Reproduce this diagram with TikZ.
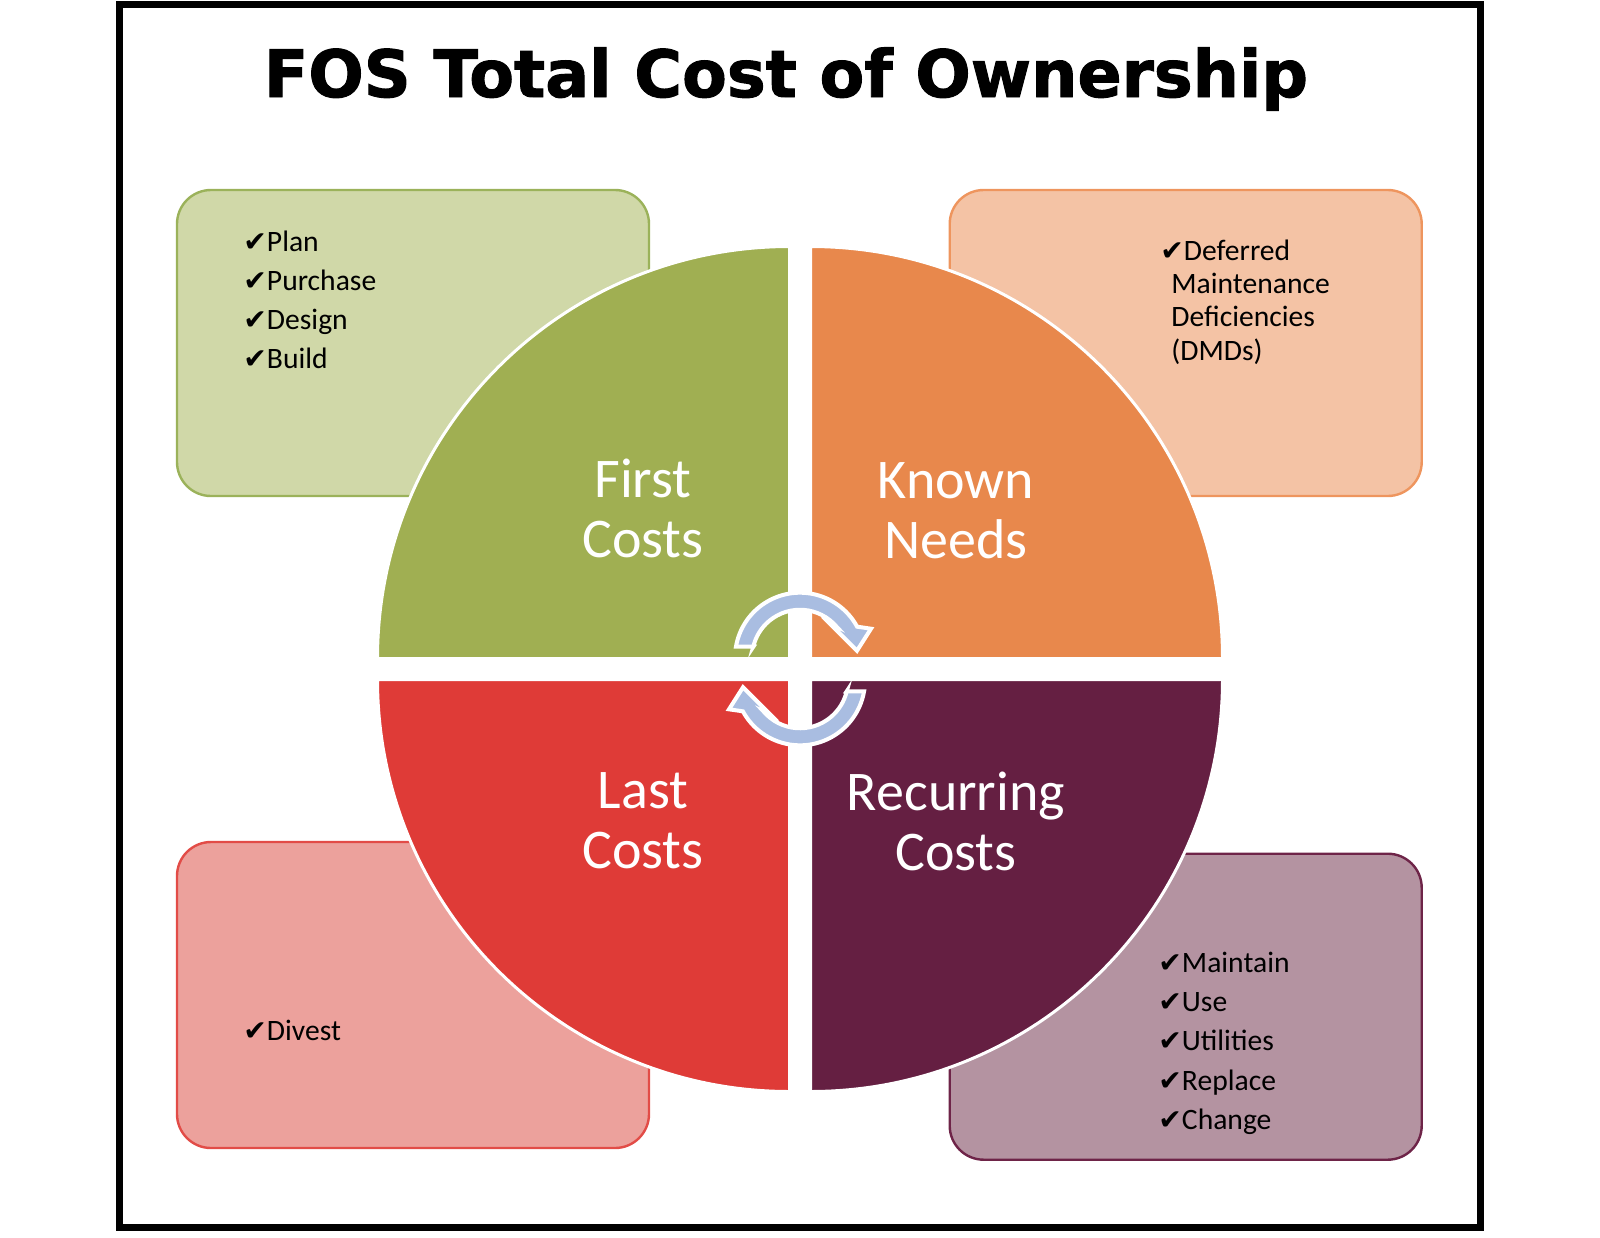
\documentclass[tikz,border=0pt]{standalone}
\usepackage{fontspec}
\setmainfont{Carlito}
\newfontfamily\titlefont[BoldFeatures={FakeBold=1.5}]{DejaVu Sans}
\newfontfamily\tickfont[Scale=0.95]{DejaVu Sans}
\newcommand{\tick}{{\tickfont ✔}}
\usetikzlibrary{positioning}

\definecolor{quadgreen}{HTML}{A0AF52}
\definecolor{quadorange}{HTML}{E8884C}
\definecolor{quadred}{HTML}{DF3B37}
\definecolor{quadpurple}{HTML}{651F42}
\definecolor{boxgreen}{HTML}{D0D8A8}
\definecolor{boxorange}{HTML}{F4C3A5}
\definecolor{boxred}{HTML}{ECA19C}
\definecolor{boxpurple}{HTML}{B493A1}
\definecolor{edgegreen}{HTML}{9BB25A}
\definecolor{edgeorange}{HTML}{EE955E}
\definecolor{edgered}{HTML}{E24C47}
\definecolor{edgepurple}{HTML}{6E2448}
\definecolor{arrowblue}{HTML}{A9BDE1}

\begin{document}
\begin{tikzpicture}[x=0.5pt, y=-0.5pt,
		infobox/.style 2 args={rectangle, draw=#2, fill=#1, line width=1.2pt, rounded corners=17pt, minimum width=236pt, minimum height=153pt},
		listtext/.style={inner sep=0pt, align=left, text=black, font=\fontsize{14.8}{#1}\selectfont},
		quadrant/.style={fill=#1, draw=white, line width=1.5pt},
		quadtext/.style={anchor=north, inner sep=0pt, align=center, text=white, font=\fontsize{28}{30}\selectfont},
		turn arrow/.style={fill=arrowblue, draw=white, line width=2pt, line join=miter}]

	\useasboundingbox (0,0) rectangle (1600,1237);
	\draw [line width=3.5pt] (119,4) rectangle (1480,1227);

	\node (title) [anchor=base] at (786,97) {\fontsize{32.6}{36}\selectfont\titlefont\bfseries FOS Total Cost of Ownership};

	%Detail boxes behind the circle.
	\node [infobox={boxgreen}{edgegreen}]   (first-box)     at (413,343)    {};
	\node [infobox={boxorange}{edgeorange}] (known-box)     at (1185.7,343) {};
	\node [infobox={boxred}{edgered}]       (last-box)      at (413,995)    {};
	\node [infobox={boxpurple}{edgepurple}] (recurring-box) at (1185.7,1006.7) {};

	\node [listtext=19.5pt]  (first-list)     [below right=21pt and 33.6pt of first-box.north west]        {\tick Plan\\\tick Purchase\\\tick Design\\\tick Build};
	\node [listtext=16.65pt] (known-list)     [below right=25.3pt and 105.75pt of known-box.north west]    {\tick Deferred\\\hspace*{5.5pt}Maintenance\\\hspace*{5.5pt}Deficiencies\\\hspace*{5.5pt}(DMDs)};
	\node [listtext=19.5pt]  (last-list)      [below right=89.5pt and 33.6pt of last-box.north west]       {\tick Divest};
	\node [listtext=19.6pt]  (recurring-list) [below right=49.6pt and 104.75pt of recurring-box.north west] {\tick Maintain\\\tick Use\\\tick Utilities\\\tick Replace\\\tick Change};

	%Four quarters of the circle.
	\path [quadrant=quadgreen]  (789.5,658.5) -- ++(180:412) arc[start angle=180, end angle=270, radius=412] -- cycle;
	\path [quadrant=quadorange] (810.5,658.5) -- ++(270:412) arc[start angle=270, end angle=360, radius=412] -- cycle;
	\path [quadrant=quadpurple] (810.5,679.5) -- ++(0:412)   arc[start angle=0, end angle=90, radius=412] -- cycle;
	\path [quadrant=quadred]    (789.5,679.5) -- ++(90:412)  arc[start angle=90, end angle=180, radius=412] -- cycle;

	\node [quadtext] (first-txt)     at (643,459) {First\\Costs};
	\node [quadtext] (known-txt)     at (956,462.5) {Known\\Needs};
	\node [quadtext] (last-txt)      at (643,772) {Last\\Costs};
	\node [quadtext] (recurring-txt) at (956,772) {Recurring\\Costs};

	%Turning arrows in the middle.
	\begin{scope}[shift={(800,657.7)}]
		\path [turn arrow] (-46.7,-11) -- (-64.06,-11) arc[start angle=189.74, end angle=331.5, radius=65] -- (71,-29) -- (57,-7) -- (30,-34) -- (36.6,-31) arc[start angle=319.7, end angle=193.26, radius=48] -- cycle;
	\end{scope}
	\begin{scope}[shift={(800,680.3)}, rotate=180]
		\path [turn arrow] (-46.7,-11) -- (-64.06,-11) arc[start angle=189.74, end angle=331.5, radius=65] -- (71,-29) -- (57,-7) -- (30,-34) -- (36.6,-31) arc[start angle=319.7, end angle=193.26, radius=48] -- cycle;
	\end{scope}

\end{tikzpicture}
\end{document}
